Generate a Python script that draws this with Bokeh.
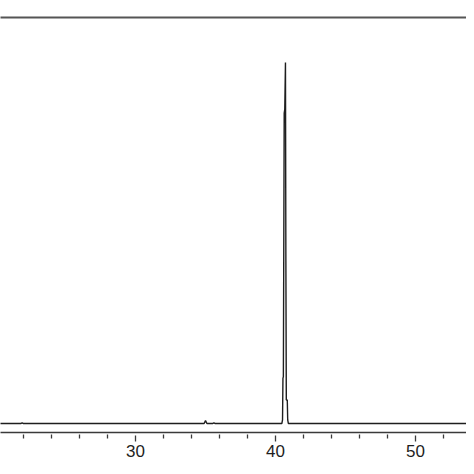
from bokeh.plotting import figure
from bokeh.models import FixedTicker, LinearAxis, Range1d
from bokeh.embed import file_html
from bokeh.resources import INLINE

# 2-theta (degrees) and relative intensity
two_theta = [19.5, 21.8, 21.9, 22.0, 34.9, 35.0, 35.1, 35.5, 35.6, 35.7,
             40.45, 40.50, 40.53, 40.56, 40.62, 40.66, 40.71, 40.74, 40.77,
             40.84, 40.87, 40.92, 54.0]
intensity = [0, 0, 0.2, 0, 0, 0.8, 0, 0, 0.2, 0,
             0, 1.0, 12.5, 13.0, 86.0, 87.0, 100.0, 45.0, 6.5,
             6.5, 1.0, 0, 0]

major_ticks = [20, 30, 40, 50]
minor_ticks = [22, 24, 26, 28, 32, 34, 36, 38, 42, 44, 46, 48, 52]

p = figure(width=466, height=466, output_backend="svg", toolbar_location=None,
           x_range=Range1d(20.357, 53.64), y_range=Range1d(-2.49, 112.47),
           min_border_left=0, min_border_right=0, min_border_top=17,
           min_border_bottom=34, x_axis_location=None, y_axis_location=None)
p.grid.visible = False
p.outline_line_color = None
p.background_fill_color = "white"
p.border_fill_color = "white"

p.line(two_theta, intensity, line_color="#1e1e1e", line_width=1.4)

xaxis = LinearAxis(ticker=FixedTicker(ticks=major_ticks, minor_ticks=minor_ticks))
xaxis.axis_line_color = "#3a3a3a"
xaxis.axis_line_width = 1.6
xaxis.major_tick_line_color = "#3a3a3a"
xaxis.major_tick_line_width = 1.3
xaxis.major_tick_in = -3
xaxis.major_tick_out = 9
xaxis.minor_tick_line_color = "#3a3a3a"
xaxis.minor_tick_line_width = 1.3
xaxis.minor_tick_in = -2
xaxis.minor_tick_out = 6
xaxis.major_label_text_font = "Liberation Sans"
xaxis.major_label_text_font_size = "17px"
xaxis.major_label_text_color = "#1e1e1e"
xaxis.major_label_standoff = 3
p.add_layout(xaxis, "below")

top = LinearAxis(ticker=FixedTicker(ticks=[]))
top.axis_line_color = "#555555"
top.axis_line_width = 2.2
top.major_tick_line_color = None
top.minor_tick_line_color = None
top.major_label_text_font_size = "0px"
top.major_label_standoff = 0
p.add_layout(top, "above")

open("out.html", "w").write(file_html(p, INLINE))
